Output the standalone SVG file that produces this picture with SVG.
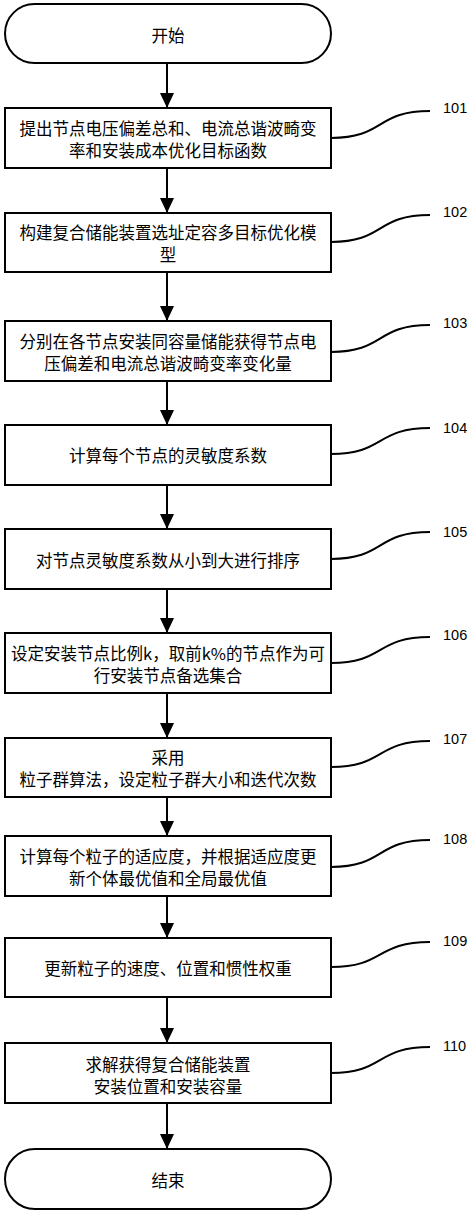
<svg xmlns="http://www.w3.org/2000/svg" width="474" height="1213" viewBox="0 0 474 1213">
<style>
.box{fill:#fff;stroke:#000;stroke-width:2}
.t{font-family:"Noto Sans CJK SC","Liberation Sans",sans-serif;font-size:16.5px;fill:#000;text-anchor:middle;dominant-baseline:central}
.lbl{font-family:"Liberation Sans","Noto Sans",sans-serif;font-size:14.5px;fill:#000}
.con{stroke:#000;stroke-width:2;fill:none}
.lead{stroke:#000;stroke-width:2;fill:none}
</style>
<defs>
<marker id="ah" markerUnits="userSpaceOnUse" markerWidth="16" markerHeight="16" viewBox="0 0 16 16" refX="15" refY="8" orient="auto">
<path d="M0,1 L15,8 L0,15 Z" fill="#000"/>
</marker>
</defs>
<g id="connectors">
<line class="con" x1="167" y1="63" x2="167" y2="108" marker-end="url(#ah)"/>
<line class="con" x1="167" y1="168" x2="167" y2="213" marker-end="url(#ah)"/>
<line class="con" x1="167" y1="272" x2="167" y2="321" marker-end="url(#ah)"/>
<line class="con" x1="167" y1="381" x2="167" y2="425" marker-end="url(#ah)"/>
<line class="con" x1="167" y1="485" x2="167" y2="529" marker-end="url(#ah)"/>
<line class="con" x1="167" y1="589" x2="167" y2="633" marker-end="url(#ah)"/>
<line class="con" x1="167" y1="693" x2="167" y2="738" marker-end="url(#ah)"/>
<line class="con" x1="167" y1="797" x2="167" y2="836" marker-end="url(#ah)"/>
<line class="con" x1="167" y1="896" x2="167" y2="938" marker-end="url(#ah)"/>
<line class="con" x1="167" y1="997" x2="167" y2="1043" marker-end="url(#ah)"/>
<line class="con" x1="167" y1="1103" x2="167" y2="1149" marker-end="url(#ah)"/>
</g>
<g id="start">
<rect class="box" x="5" y="4" width="326" height="59" rx="29.5" ry="29.5"/>
<text class="t" x="168" y="35">开始</text>
</g>
<g id="n101">
<rect class="box" x="5" y="108" width="326" height="60"/>
<text class="t" x="168" y="128">提出节点电压偏差总和、电流总谐波畸变</text>
<text class="t" x="168" y="150">率和安装成本优化目标函数</text>
<path class="lead" d="M331,138 C385,138 375,111 430,111"/>
<text class="lbl" x="443" y="112.5">101</text>
</g>
<g id="n102">
<rect class="box" x="5" y="213" width="326" height="59"/>
<text class="t" x="168" y="232">构建复合储能装置选址定容多目标优化模</text>
<text class="t" x="168" y="254">型</text>
<path class="lead" d="M331,242 C385,242 375,215 430,215"/>
<text class="lbl" x="443" y="216.5">102</text>
</g>
<g id="n103">
<rect class="box" x="5" y="321" width="326" height="60"/>
<text class="t" x="168" y="341">分别在各节点安装同容量储能获得节点电</text>
<text class="t" x="168" y="363">压偏差和电流总谐波畸变率变化量</text>
<path class="lead" d="M331,352 C385,352 375,325 430,325"/>
<text class="lbl" x="443" y="328">103</text>
</g>
<g id="n104">
<rect class="box" x="5" y="425" width="326" height="60"/>
<text class="t" x="168" y="455">计算每个节点的灵敏度系数</text>
<path class="lead" d="M331,454 C385,454 375,428 430,428"/>
<text class="lbl" x="443" y="433">104</text>
</g>
<g id="n105">
<rect class="box" x="5" y="529" width="326" height="60"/>
<text class="t" x="168" y="560">对节点灵敏度系数从小到大进行排序</text>
<path class="lead" d="M331,559 C385,559 375,532 430,532"/>
<text class="lbl" x="443" y="537">105</text>
</g>
<g id="n106">
<rect class="box" x="5" y="633" width="326" height="60"/>
<text class="t" x="168" y="653">设定安装节点比例k，取前k%的节点作为可</text>
<text class="t" x="168" y="675">行安装节点备选集合</text>
<path class="lead" d="M331,663 C385,663 375,637 430,637"/>
<text class="lbl" x="443" y="640">106</text>
</g>
<g id="n107">
<rect class="box" x="5" y="738" width="326" height="59"/>
<text class="t" x="168" y="757">采用</text>
<text class="t" x="168" y="779">粒子群算法，设定粒子群大小和迭代次数</text>
<path class="lead" d="M331,767 C385,767 375,741 430,741"/>
<text class="lbl" x="443" y="744">107</text>
</g>
<g id="n108">
<rect class="box" x="5" y="836" width="326" height="60"/>
<text class="t" x="168" y="856">计算每个粒子的适应度，并根据适应度更</text>
<text class="t" x="168" y="878">新个体最优值和全局最优值</text>
<path class="lead" d="M331,867 C385,867 375,840 430,840"/>
<text class="lbl" x="443" y="844">108</text>
</g>
<g id="n109">
<rect class="box" x="5" y="938" width="326" height="59"/>
<text class="t" x="168" y="968">更新粒子的速度、位置和惯性权重</text>
<path class="lead" d="M331,967 C385,967 375,942 430,942"/>
<text class="lbl" x="443" y="946">109</text>
</g>
<g id="n110">
<rect class="box" x="5" y="1043" width="326" height="60"/>
<text class="t" x="168" y="1064">求解获得复合储能装置</text>
<text class="t" x="168" y="1086">安装位置和安装容量</text>
<path class="lead" d="M331,1073 C385,1073 375,1047 430,1047"/>
<text class="lbl" x="443" y="1051">110</text>
</g>
<g id="end">
<rect class="box" x="5" y="1149" width="326" height="60" rx="30" ry="30"/>
<text class="t" x="168" y="1180">结束</text>
</g>
</svg>
